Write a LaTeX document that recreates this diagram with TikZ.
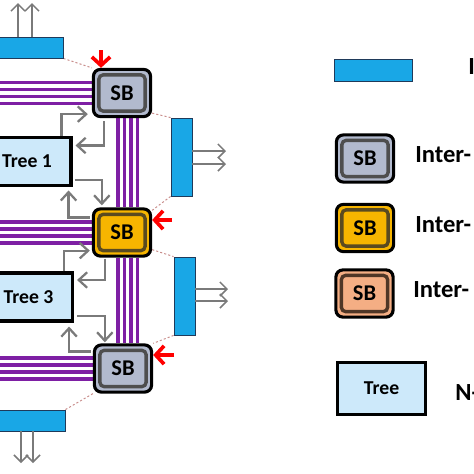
\documentclass[tikz,border=0pt]{standalone}
\usepackage{fontspec}
\setmainfont{Carlito}
\usetikzlibrary{arrows.meta,backgrounds}

\definecolor{iofill}{HTML}{19A7E6}
\definecolor{iodraw}{HTML}{1F3A5A}
\definecolor{treefill}{HTML}{CDE9FA}
\definecolor{busc}{HTML}{7E1FA4}
\definecolor{arrowgray}{HTML}{7A7A7A}
\definecolor{linkc}{HTML}{C98E8C}
\definecolor{sbgray}{HTML}{B2BACE}
\definecolor{sbgrayring}{HTML}{4E4E4E}
\definecolor{sbgold}{HTML}{F7B500}
\definecolor{sbgoldring}{HTML}{5A4A20}
\definecolor{sborange}{HTML}{F4AE84}
\definecolor{sborangering}{HTML}{4F3626}

\begin{document}
\begin{tikzpicture}[x=0.025cm,y=-0.025cm,
    iobar/.style={draw=iodraw,line width=0.6pt,fill=iofill,inner sep=0pt},
    sb/.style 2 args={draw=black,line width=2.2pt,rounded corners=5pt,fill=#1,
      minimum width=1.43cm,minimum height=1.18cm,inner sep=0pt,
      font=\fontsize{16}{16}\selectfont\bfseries,
      path picture={\draw[draw=#2,line width=2.4pt,rounded corners=3pt]
        ([shift={(5.5,-5.5)}]path picture bounding box.south west) rectangle
        ([shift={(-5.5,5.5)}]path picture bounding box.north east);}},
    tree/.style={draw=black,line width=2.2pt,fill=treefill,inner sep=0pt,
      font=\fontsize{14}{14}\selectfont\bfseries},
    bus/.style={draw=busc,line width=2.6pt},
    garrow/.style={draw=arrowgray,line width=1.6pt,-{Straight Barb[length=6pt,width=11pt]}},
    ioarrow/.style={draw=arrowgray,line width=1.1pt,-{Straight Barb[length=5pt,width=10pt]}},
    redarrow/.style={draw=red,line width=2.6pt,-{Straight Barb[length=6pt,width=13pt]}},
    link/.style={draw=linkc,line width=0.7pt,dash pattern=on 1.5pt off 1.5pt},
    lgtext/.style={anchor=west,inner sep=0pt,font=\fontsize{17.5}{18}\selectfont\bfseries}]

  \useasboundingbox (0,0) rectangle (474,474);
  \clip (0,0) rectangle (474,474);

  \node[iobar,minimum width=2.075cm,minimum height=0.525cm] (ioT) at (21.5,47.5) {};
  \node[iobar,minimum width=0.525cm,minimum height=1.95cm] (io1) at (181.5,157) {};
  \node[iobar,minimum width=0.525cm,minimum height=1.95cm] (io2) at (184.5,296) {};
  \node[iobar,minimum width=2.125cm,minimum height=0.525cm] (ioB) at (22.5,420.5) {};

  \node[sb={sbgray}{sbgrayring}] (sb1) at (122,93) {SB};
  \node[sb={sbgold}{sbgoldring}] (sb2) at (122,232.5) {SB};
  \node[sb={sbgray}{sbgrayring}] (sb3) at (123,368.5) {SB};

  \node[tree,minimum width=2.2cm,minimum height=1.22cm] (tree1) at (27,161.5) {Tree 1};
  \node[tree,minimum width=2.2cm,minimum height=1.2cm] (tree3) at (28.5,297) {Tree 3};

  \coordinate (oT1) at (18,3);
  \coordinate (oT2) at (32,3);
  \coordinate (o11) at (226,151);
  \coordinate (o12) at (226,164);
  \coordinate (o21) at (228,289);
  \coordinate (o22) at (228,301);
  \coordinate (oB1) at (21,463);
  \coordinate (oB2) at (33,463);
  \coordinate (r1) at (101,50);
  \coordinate (r2) at (172,220);
  \coordinate (r3) at (174,355);

  \begin{scope}[on background layer]
    \foreach \d in {-10.5,-3.5,3.5,10.5} {
      \draw[bus] ([shift={(0,\d)}]sb1.west) -- ++(-100,0);
      \draw[bus] ([shift={(0,\d)}]sb2.west) -- ++(-100,0);
      \draw[bus] ([shift={(0,\d)}]sb3.west) -- ++(-100,0);
    }
    \foreach \d in {-4,2.5,9,15.5} {
      \draw[bus] ([shift={(\d,0)}]sb1.south) -- ([shift={(\d,0)}]sb2.north);
      \draw[bus] ([shift={(\d,0)}]sb2.south) -- ([shift={(\d-1,0)}]sb3.north);
    }
    \draw[link] (ioT.south east) -- (sb1.north west);
    \draw[link] ([shift={(0,-5)}]sb1.south east) -- (io1.north west);
    \draw[link] (io1.south west) -- ([shift={(0,3)}]sb2.north east);
    \draw[link] ([shift={(0,-8)}]sb2.south east) -- (io2.north west);
    \draw[link] (io2.south west) -- (sb3.north east);
    \draw[link] (sb3.south west) -- (ioB.north east);
  \end{scope}

  \draw[ioarrow] (ioT.north -| oT1) -- (oT1);
  \draw[ioarrow] (ioT.north -| oT2) -- (oT2);
  \draw[ioarrow] (io1.east |- o11) -- (o11);
  \draw[ioarrow] (io1.east |- o12) -- (o12);
  \draw[ioarrow] (io2.east |- o21) -- (o21);
  \draw[ioarrow] (io2.east |- o22) -- (o22);
  \draw[ioarrow] (ioB.south -| oB1) -- (oB1);
  \draw[ioarrow] (ioB.south -| oB2) -- (oB2);

  \draw[garrow] ([shift={(-11,0)}]tree1.north east) |- ([shift={(-4,-4)}]sb1.south west);
  \draw[garrow] ([shift={(12,3)}]sb1.south west) |- ([shift={(3,-16)}]tree1.east);
  \draw[garrow] ([shift={(2,18.5)}]tree1.east) -| ([shift={(10,-2)}]sb2.north west);
  \draw[garrow] ([shift={(-2,-15)}]sb2.west) -| ([shift={(-4,3)}]tree1.south east);
  \draw[garrow] ([shift={(-10,0)}]tree3.north east) |- ([shift={(-2,-7)}]sb2.south west);
  \draw[garrow] ([shift={(13,1)}]sb2.south west) |- ([shift={(3,-17)}]tree3.east);
  \draw[garrow] ([shift={(3,19)}]tree3.east) -| ([shift={(12,-1)}]sb3.north west);
  \draw[garrow] ([shift={(-2,-17)}]sb3.west) -| ([shift={(-5,4)}]tree3.south east);

  \draw[redarrow] (r1) -- (r1 |- sb1.north);
  \draw[redarrow] (r2) -- (r2 -| sb2.east);
  \draw[redarrow] (r3) -- (r3 -| sb3.east);

  \node[iobar,minimum width=1.95cm,minimum height=0.55cm] (lgio) at (373,70) {};
  \node[sb={sbgray}{sbgrayring}] (lgsb1) at (365,158.5) {SB};
  \node[sb={sbgold}{sbgoldring}] (lgsb2) at (365,228) {SB};
  \node[sb={sborange}{sborangering}] (lgsb3) at (364.5,293.5) {SB};
  \node[tree,minimum width=2.2cm,minimum height=1.28cm] (lgtree) at (381.5,388.5) {Tree};

  \node[lgtext] (lgt1) at (468,67) {I};
  \node[lgtext] (lgt2) at (415,155) {Inter-};
  \node[lgtext] (lgt3) at (415,225) {Inter-};
  \node[lgtext] (lgt4) at (413,290) {Inter-};
  \node[lgtext] (lgt5) at (455,393) {N-};
\end{tikzpicture}
\end{document}
